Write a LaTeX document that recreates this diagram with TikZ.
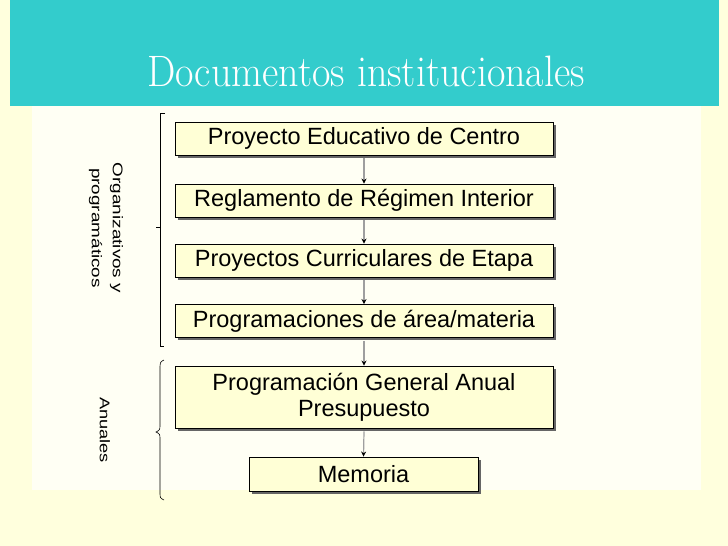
\documentclass[tikz,border=0pt]{standalone}
\usepackage{fontspec}
\setmainfont{Liberation Sans}
\newfontfamily\titlefont{Latin Modern Roman}
\usetikzlibrary{arrows.meta,shadows}
\definecolor{bgyel}{HTML}{FFFFDD}
\definecolor{panel}{HTML}{FFFFF4}
\definecolor{teal}{HTML}{33CCCC}
\definecolor{boxfill}{HTML}{FFFFD6}
\tikzset{
  docbox/.style={draw=black, line width=0.9pt, fill=boxfill, inner sep=0pt,
    minimum width=378pt, minimum height=33pt, align=center,
    font=\fontsize{23.5}{26}\selectfont,
    drop shadow={shadow xshift=2.5pt, shadow yshift=-2.5pt, fill=gray!80!black, opacity=1}},
  flow/.style={draw=gray!75, line width=1.2pt, -{Stealth[black,length=5pt,width=5pt]}},
  sidelabel/.style={rotate=-90, align=center, font=\fontsize{14}{21}\selectfont},
  brk/.style={draw=black, line width=0.6pt}
}
\begin{document}
\begin{tikzpicture}[x=1pt,y=-1pt]
\useasboundingbox (0,0) rectangle (728,546);
\fill[bgyel] (0,0) rectangle (728,546);
\fill[panel] (32,106) rectangle (701,490);
\fill[teal] (10,0) rectangle (719,106);
\node[text=white, font=\titlefont\fontsize{44}{48}\selectfont] (title) at (366,71) {\scalebox{0.91}[1]{Documentos institucionales}};

\node[docbox] (b1) at (364,138.5) {Proyecto Educativo de Centro};
\node[docbox] (b2) at (364,200.5) {Reglamento de Régimen Interior};
\node[docbox] (b3) at (364,260.5) {Proyectos Curriculares de Etapa};
\node[docbox] (b4) at (364,321) {Programaciones de área/materia};
\node[docbox, minimum height=62pt] (b5) at (364,397) {Programación General Anual\\Presupuesto};
\node[docbox, minimum width=229pt, minimum height=34pt] (b6) at (363.5,474) {Memoria};

\draw[flow] ([yshift=-3pt]b1.south) -- (b2.north);
\draw[flow] ([yshift=-3pt]b2.south) -- (b3.north);
\draw[flow] ([yshift=-3pt]b3.south) -- (b4.north);
\draw[flow] ([yshift=-3pt]b4.south) -- (b5.north);
\draw[flow] ([yshift=-3pt]b5.south) -- (b6.north);

% bracket
\draw[brk] (165,113) -- (160,113) -- (160,346) -- (164,346);
\draw[brk] (160,227) -- (156,227);
% brace
\draw[brk] (164,360) .. controls (160,362) .. (160,370) -- (160,424) .. controls (160,430) .. (156,432)
  .. controls (160,434) .. (160,440) -- (160,492) .. controls (160,498) .. (164,500);

\node[sidelabel] (l1) at (106,228) {\scalebox{1.35}[1]{Organizativos y}\\\scalebox{1.35}[1]{programáticos}};
\node[sidelabel] (l2) at (105,430) {\scalebox{1.3}[1]{Anuales}};
\end{tikzpicture}
\end{document}
